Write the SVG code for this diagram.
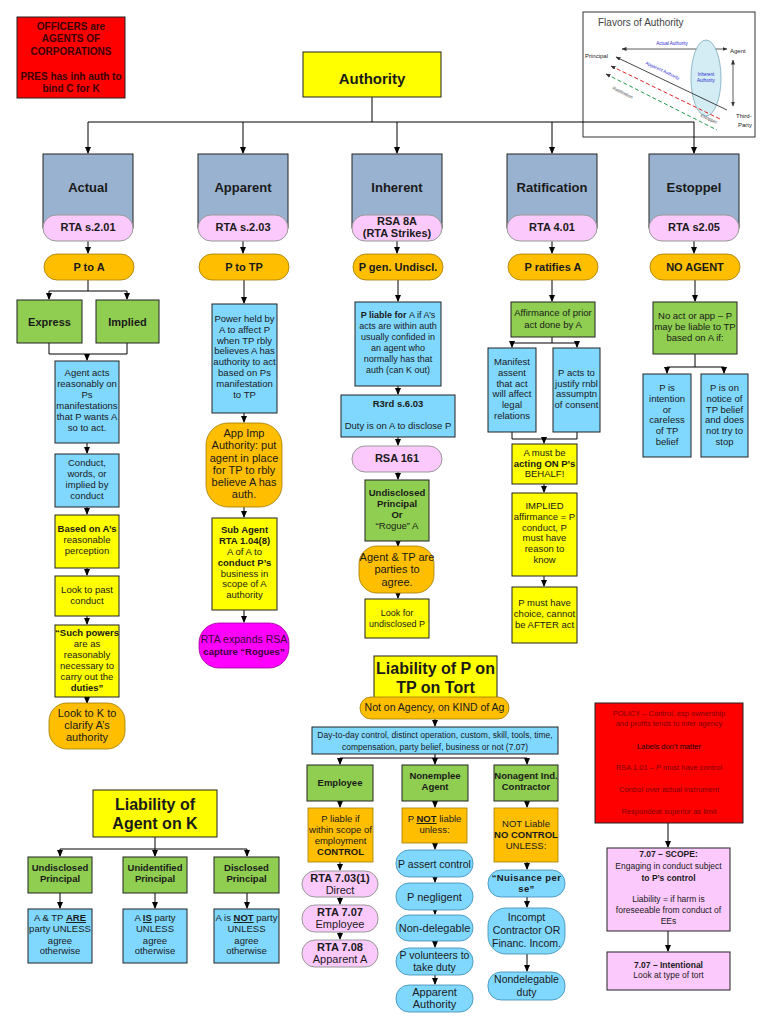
<svg xmlns="http://www.w3.org/2000/svg" width="768" height="1024" viewBox="0 0 768 1024">
<defs>
<marker id="ah" markerWidth="7" markerHeight="6" refX="6" refY="3" orient="auto" markerUnits="userSpaceOnUse"><path d="M0,0 L7,3 L0,6 z" fill="#000"/></marker>
<marker id="sa" markerWidth="5" markerHeight="4" refX="4.5" refY="2" orient="auto-start-reverse" markerUnits="userSpaceOnUse"><path d="M0,0 L5,2 L0,4 z" fill="#333"/></marker>
<style>
text{font-family:"Liberation Sans",Arial,sans-serif;text-anchor:middle;fill:#1a1a1a}
.s9{font-size:9px}.s95{font-size:9.5px}.s11{font-size:11px}.s85{font-size:8.5px}
.b{font-weight:bold}
.bx{stroke:#222;stroke-width:1}
.hdr{fill:#98b2cf}.pk{fill:#fcc9fc;stroke:#999;stroke-width:1}.or{fill:#ffbf00;stroke:#a07a00;stroke-width:0.8}
.gr{fill:#8fce50}.bl{fill:#80d8ff}.ye{fill:#ffff00}.rd{fill:#ff0000}.mg{fill:#ff00ff;stroke:#a000a0;stroke-width:0.8}
.bp{fill:#80d8ff;stroke:#3a8ab0;stroke-width:0.8}
.c{stroke:#000;stroke-width:1;fill:none}
.ca{stroke:#000;stroke-width:1;fill:none;marker-end:url(#ah)}
</style>
</defs>
<rect width="768" height="1024" fill="#fff"/>

<!-- inset -->
<g id="inset">
<rect x="583" y="12" width="172" height="125" fill="#fff" stroke="#333" stroke-width="1"/>
<text x="598" y="26" style="font-size:10px;text-anchor:start;fill:#444">Flavors of Authority</text>
<text x="585" y="58" style="font-size:6px;text-anchor:start;fill:#222">Principal</text>
<text x="730" y="53" style="font-size:6px;text-anchor:start;fill:#222">Agent</text>
<line x1="622" y1="49" x2="727" y2="49" stroke="#333" stroke-width="0.8" marker-start="url(#sa)" marker-end="url(#sa)"/>
<text x="672" y="45" style="font-size:4.5px;fill:#2a2ad0">Actual Authority</text>
<ellipse cx="706" cy="78" rx="15" ry="38" fill="#d4ecf4" stroke="#7ab" stroke-width="0.8"/>
<text x="706" y="76" style="font-size:4.5px;fill:#2a2ad0">Inherent</text>
<text x="706" y="82" style="font-size:4.5px;fill:#2a2ad0">Authority</text>
<line x1="733" y1="60" x2="733" y2="106" stroke="#333" stroke-width="0.8" marker-start="url(#sa)" marker-end="url(#sa)"/>
<text x="736" y="118" style="font-size:6px;text-anchor:start;fill:#222">Third-</text>
<text x="738" y="127" style="font-size:6px;text-anchor:start;fill:#222">Party</text>
<line x1="616" y1="57" x2="727" y2="110" stroke="#333" stroke-width="0.9" marker-start="url(#sa)"/>
<text x="0" y="0" transform="translate(662,72) rotate(25.5)" style="font-size:4.5px;fill:#2a2ad0">Apparent Authority</text>
<line x1="611" y1="66" x2="722" y2="120" stroke="#e02020" stroke-width="1" stroke-dasharray="4,2.5" marker-start="url(#sa)"/>
<line x1="606" y1="74" x2="717" y2="130" stroke="#20a050" stroke-width="1" stroke-dasharray="4,2.5" marker-start="url(#sa)"/>
<text x="0" y="0" transform="translate(622,94) rotate(26)" style="font-size:4.5px;fill:#444">Ratification</text>
<text x="0" y="0" transform="translate(708,120) rotate(26)" style="font-size:4.5px;fill:#444">Estoppel</text>
</g>

<!-- connectors -->
<g id="connectors">
<path class="c" d="M372,97 V122 M88,122 H694"/>
<path class="ca" d="M88,122 V153"/><path class="ca" d="M243,122 V153"/><path class="ca" d="M397,122 V153"/><path class="ca" d="M552,122 V153"/><path class="ca" d="M694,122 V153"/>
<path class="ca" d="M88,241 V253"/><path class="ca" d="M243,241 V253"/><path class="ca" d="M397,241 V253"/><path class="ca" d="M552,241 V253"/><path class="ca" d="M694,241 V253"/>
<!-- actual -->
<path class="c" d="M88,280 V291 M49,291 H127"/>
<path class="ca" d="M49,291 V299"/><path class="ca" d="M127,291 V299"/>
<path class="c" d="M49,343 V354 H127 V343"/>
<path class="ca" d="M87,354 V360"/>
<path class="ca" d="M87,443 V453"/><path class="ca" d="M87,507 V514"/><path class="ca" d="M87,568 V575"/><path class="ca" d="M87,616 V624"/><path class="ca" d="M87,697 V703"/>
<!-- apparent -->
<path class="ca" d="M244,280 V303"/><path class="ca" d="M244,413 V422"/><path class="ca" d="M244,507 V517"/><path class="ca" d="M244,610 V622"/>
<!-- inherent -->
<path class="ca" d="M398,280 V301"/><path class="ca" d="M398,386 V394"/><path class="ca" d="M398,437 V445"/><path class="ca" d="M398,472 V479"/><path class="ca" d="M398,541 V546"/><path class="ca" d="M398,593 V598"/>
<!-- ratification -->
<path class="ca" d="M552,280 V301"/>
<path class="c" d="M552,337 V343 M512,343 H577"/>
<path class="ca" d="M512,343 V347"/><path class="ca" d="M577,343 V347"/>
<path class="c" d="M512,432 V439 H577 V432"/>
<path class="ca" d="M544,439 V443"/><path class="ca" d="M544,484 V492"/><path class="ca" d="M544,576 V586"/>
<!-- estoppel -->
<path class="ca" d="M695,280 V301"/>
<path class="c" d="M695,354 V367 M667,367 H724"/>
<path class="ca" d="M667,367 V373"/><path class="ca" d="M724,367 V373"/>
<!-- tort -->
<path class="ca" d="M435,719 V726"/>
<path class="c" d="M435,754 V758 M340,758 H527"/>
<path class="ca" d="M340,758 V764"/><path class="ca" d="M435,758 V764"/><path class="ca" d="M527,758 V764"/>
<path class="ca" d="M340,801 V807"/><path class="ca" d="M435,801 V807"/><path class="ca" d="M527,801 V807"/>
<path class="ca" d="M340,862 V870"/><path class="ca" d="M340,897 V904"/><path class="ca" d="M340,932 V939"/>
<path class="ca" d="M435,843 V849"/><path class="ca" d="M435,877 V882"/><path class="ca" d="M435,910 V914"/><path class="ca" d="M435,941 V947"/><path class="ca" d="M435,975 V984"/>
<path class="ca" d="M527,862 V869"/><path class="ca" d="M527,897 V907"/><path class="ca" d="M527,954 V971"/>
<!-- policy -->
<path class="ca" d="M668,823 V847"/><path class="ca" d="M668,931 V951"/>
<!-- agent on K -->
<path class="c" d="M155,837 V849 M60,849 H247"/>
<path class="ca" d="M60,849 V856"/><path class="ca" d="M155,849 V856"/><path class="ca" d="M247,849 V856"/>
<path class="ca" d="M60,893 V908"/><path class="ca" d="M155,893 V908"/><path class="ca" d="M247,893 V908"/>
</g>

<g id="officers">
<rect x="17" y="17" width="108" height="81" class="bx rd"/>
<text class="b" style="font-size:10px;fill:#3a0000"><tspan x="71" y="30">OFFICERS are</tspan><tspan x="71" y="42">AGENTS OF</tspan><tspan x="71" y="55">CORPORATIONS</tspan><tspan x="71" y="80">PRES has inh auth to</tspan><tspan x="71" y="92">bind C for K</tspan></text>
</g>

<g id="authority">
<rect x="303" y="52" width="138" height="45" class="bx ye"/>
<text x="372" y="84" class="b" style="font-size:15px">Authority</text>
</g>

<!-- headers -->
<g id="actual"><rect x="43" y="154" width="90" height="74" class="bx hdr"/><text x="88" y="192" class="b" style="font-size:13px">Actual</text>
<rect x="43" y="215" width="90" height="26" rx="13" class="pk"/><text x="88" y="231" class="b s11">RTA s.2.01</text></g>
<g id="apparent"><rect x="198" y="154" width="90" height="74" class="bx hdr"/><text x="243" y="192" class="b" style="font-size:13px">Apparent</text>
<rect x="198" y="215" width="90" height="26" rx="13" class="pk"/><text x="243" y="231" class="b s11">RTA s.2.03</text></g>
<g id="inherent"><rect x="352" y="154" width="90" height="74" class="bx hdr"/><text x="397" y="192" class="b" style="font-size:13px">Inherent</text>
<rect x="352" y="215" width="90" height="26" rx="13" class="pk"/><text class="b s11"><tspan x="397" y="225">RSA 8A</tspan><tspan x="397" y="237">(RTA Strikes)</tspan></text></g>
<g id="ratification"><rect x="507" y="154" width="90" height="74" class="bx hdr"/><text x="552" y="192" class="b" style="font-size:13px">Ratification</text>
<rect x="507" y="215" width="90" height="26" rx="13" class="pk"/><text x="552" y="231" class="b s11">RTA 4.01</text></g>
<g id="estoppel"><rect x="649" y="154" width="90" height="74" class="bx hdr"/><text x="694" y="192" class="b" style="font-size:13px">Estoppel</text>
<rect x="649" y="215" width="90" height="26" rx="13" class="pk"/><text x="694" y="231" class="b s11">RTA s2.05</text></g>

<g id="ptoa"><rect x="44" y="254" width="90" height="26" rx="13" class="or"/><text x="89" y="271" class="b s11">P to A</text></g>
<g id="ptotp"><rect x="199" y="254" width="90" height="26" rx="13" class="or"/><text x="244" y="271" class="b s11">P to TP</text></g>
<g id="pgen"><rect x="353" y="254" width="90" height="26" rx="13" class="or"/><text x="398" y="271" class="b s11">P gen. Undiscl.</text></g>
<g id="pratifies"><rect x="508" y="254" width="90" height="26" rx="13" class="or"/><text x="553" y="271" class="b s11">P ratifies A</text></g>
<g id="noagent"><rect x="650" y="254" width="90" height="26" rx="13" class="or"/><text x="695" y="271" class="b s11">NO AGENT</text></g>

<!-- actual column -->
<g id="express"><rect x="17" y="300" width="65" height="43" class="bx gr"/><text x="49.5" y="326" class="b s11">Express</text></g>
<g id="implied"><rect x="96" y="300" width="63" height="43" class="bx gr"/><text x="127.5" y="326" class="b s11">Implied</text></g>
<g id="a1"><rect x="55" y="361" width="64" height="82" class="bx bl"/><text class="s95"><tspan x="87" y="376">Agent acts</tspan><tspan x="87" y="387">reasonably on</tspan><tspan x="87" y="398">Ps</tspan><tspan x="87" y="409">manifestations</tspan><tspan x="87" y="420">that P wants A</tspan><tspan x="87" y="431">so to act.</tspan></text></g>
<g id="a2"><rect x="55" y="454" width="64" height="53" class="bx bl"/><text class="s95"><tspan x="87" y="466">Conduct,</tspan><tspan x="87" y="477">words, or</tspan><tspan x="87" y="488">implied by</tspan><tspan x="87" y="499">conduct</tspan></text></g>
<g id="a3"><rect x="55" y="515" width="64" height="53" class="bx ye"/><text class="s95"><tspan x="87" y="532" class="b">Based on A’s</tspan><tspan x="87" y="543">reasonable</tspan><tspan x="87" y="554">perception</tspan></text></g>
<g id="a4"><rect x="55" y="576" width="64" height="40" class="bx ye"/><text class="s95"><tspan x="87" y="593">Look to past</tspan><tspan x="87" y="604">conduct</tspan></text></g>
<g id="a5"><rect x="55" y="625" width="64" height="72" class="bx ye"/><text class="s95"><tspan x="87" y="636" class="b">“Such powers</tspan><tspan x="87" y="647">are as</tspan><tspan x="87" y="658">reasonably</tspan><tspan x="87" y="669">necessary to</tspan><tspan x="87" y="680">carry out the</tspan><tspan x="87" y="691" class="b">duties”</tspan></text></g>
<g id="a6"><rect x="49" y="703" width="76" height="46" rx="18" class="or"/><text class="s11"><tspan x="87" y="717">Look to K to</tspan><tspan x="87" y="729">clarify A’s</tspan><tspan x="87" y="741">authority</tspan></text></g>

<!-- apparent column -->
<g id="p1"><rect x="212" y="304" width="65" height="109" class="bx bl"/><text class="s95"><tspan x="244.5" y="322">Power held by</tspan><tspan x="244.5" y="332.8">A to affect P</tspan><tspan x="244.5" y="343.6">when TP rbly</tspan><tspan x="244.5" y="354.4">believes A has</tspan><tspan x="244.5" y="365.2">authority to act</tspan><tspan x="244.5" y="376">based on Ps</tspan><tspan x="244.5" y="386.8">manifestation</tspan><tspan x="244.5" y="397.6">to TP</tspan></text></g>
<g id="p2"><rect x="206" y="423" width="76" height="84" rx="22" class="or"/><text class="s11"><tspan x="244" y="437">App Imp</tspan><tspan x="244" y="449">Authority: put</tspan><tspan x="244" y="461.5">agent in place</tspan><tspan x="244" y="474">for TP to rbly</tspan><tspan x="244" y="486">believe A has</tspan><tspan x="244" y="498">auth.</tspan></text></g>
<g id="p3"><rect x="212" y="518" width="65" height="92" class="bx ye"/><text class="s95"><tspan x="244.5" y="533" class="b">Sub Agent</tspan><tspan x="244.5" y="544" class="b">RTA 1.04(8)</tspan><tspan x="244.5" y="555">A of A to</tspan><tspan x="244.5" y="566"><tspan class="b">conduct P’s</tspan></tspan><tspan x="244.5" y="577">business in</tspan><tspan x="244.5" y="587">scope of A</tspan><tspan x="244.5" y="598">authority</tspan></text></g>
<g id="p4"><rect x="199" y="623" width="90" height="45" rx="20" class="mg"/><text style="fill:#3a003a"><tspan x="244" y="643" style="font-size:10.5px">RTA expands RSA</tspan><tspan x="244" y="655" class="b s95">capture “Rogues”</tspan></text></g>

<!-- inherent column -->
<g id="i1"><rect x="355" y="302" width="86" height="84" class="bx bl"/><text class="s9"><tspan x="398" y="318"><tspan class="b">P liable for </tspan>A if A’s</tspan><tspan x="398" y="329">acts are within auth</tspan><tspan x="398" y="340">usually confided in</tspan><tspan x="398" y="351">an agent who</tspan><tspan x="398" y="362">normally has that</tspan><tspan x="398" y="373">auth (can K out)</tspan></text></g>
<g id="i2"><rect x="341" y="395" width="114" height="42" class="bx bl"/><text class="s95"><tspan x="398" y="407" class="b">R3rd s.6.03</tspan><tspan x="398" y="429">Duty is on A to disclose P</tspan></text></g>
<g id="i3"><rect x="352" y="446" width="90" height="26" rx="13" class="pk"/><text x="397" y="462" class="b s11">RSA 161</text></g>
<g id="i4"><rect x="365" y="480" width="64" height="61" class="bx gr"/><text class="s95"><tspan x="397" y="496" class="b">Undisclosed</tspan><tspan x="397" y="507" class="b">Principal</tspan><tspan x="397" y="518" class="b">Or</tspan><tspan x="397" y="529">“Rogue” A</tspan></text></g>
<g id="i5"><rect x="359" y="546" width="75" height="47" rx="18" class="or"/><text class="s11"><tspan x="397" y="561">Agent &amp; TP are</tspan><tspan x="397" y="573">parties to</tspan><tspan x="397" y="586">agree.</tspan></text></g>
<g id="i6"><rect x="365" y="599" width="64" height="39" class="bx ye"/><text class="s9"><tspan x="397" y="616">Look for</tspan><tspan x="397" y="627">undisclosed P</tspan></text></g>

<!-- ratification column -->
<g id="r1"><rect x="511" y="302" width="84" height="35" class="bx gr"/><text class="s95"><tspan x="553" y="316">Affirmance of prior</tspan><tspan x="553" y="328">act done by A</tspan></text></g>
<g id="r2"><rect x="488" y="348" width="48" height="84" class="bx bl"/><text class="s95"><tspan x="512" y="365">Manifest</tspan><tspan x="512" y="376">assent</tspan><tspan x="512" y="386.5">that act</tspan><tspan x="512" y="397">will affect</tspan><tspan x="512" y="408">legal</tspan><tspan x="512" y="419">relations</tspan></text></g>
<g id="r3"><rect x="553" y="348" width="47" height="84" class="bx bl"/><text class="s95"><tspan x="576.5" y="376">P acts to</tspan><tspan x="576.5" y="386.5">justify rnbl</tspan><tspan x="576.5" y="397">assumptn</tspan><tspan x="576.5" y="408">of consent</tspan></text></g>
<g id="r4"><rect x="512" y="444" width="65" height="40" class="bx ye"/><text class="s95"><tspan x="544.5" y="456">A must be</tspan><tspan x="544.5" y="467" class="b">acting ON P’s</tspan><tspan x="544.5" y="477">BEHALF!</tspan></text></g>
<g id="r5"><rect x="512" y="493" width="65" height="83" class="bx ye"/><text class="s95"><tspan x="544.5" y="509">IMPLIED</tspan><tspan x="544.5" y="520">affirmance = P</tspan><tspan x="544.5" y="531">conduct, P</tspan><tspan x="544.5" y="541">must have</tspan><tspan x="544.5" y="552">reason to</tspan><tspan x="544.5" y="563">know</tspan></text></g>
<g id="r6"><rect x="512" y="587" width="65" height="56" class="bx ye"/><text class="s95"><tspan x="544.5" y="606">P must have</tspan><tspan x="544.5" y="617">choice, cannot</tspan><tspan x="544.5" y="628">be AFTER act</tspan></text></g>

<!-- estoppel column -->
<g id="e1"><rect x="653" y="302" width="84" height="52" class="bx gr"/><text class="s95"><tspan x="695" y="319">No act or app – P</tspan><tspan x="695" y="330">may be liable to TP</tspan><tspan x="695" y="341">based on A if:</tspan></text></g>
<g id="e2"><rect x="643" y="374" width="48" height="83" class="bx bl"/><text class="s95"><tspan x="667" y="391">P is</tspan><tspan x="667" y="402">intention</tspan><tspan x="667" y="412.5">or</tspan><tspan x="667" y="423">careless</tspan><tspan x="667" y="434">of TP</tspan><tspan x="667" y="445">belief</tspan></text></g>
<g id="e3"><rect x="701" y="374" width="47" height="83" class="bx bl"/><text class="s95"><tspan x="724.5" y="391">P is on</tspan><tspan x="724.5" y="402">notice of</tspan><tspan x="724.5" y="412.5">TP belief</tspan><tspan x="724.5" y="423">and does</tspan><tspan x="724.5" y="434">not try to</tspan><tspan x="724.5" y="445">stop</tspan></text></g>

<!-- tort -->
<g id="tort"><rect x="374" y="656" width="123" height="42" class="bx ye"/><text class="b" style="font-size:16px"><tspan x="435.5" y="674">Liability of P on</tspan><tspan x="435.5" y="693">TP on Tort</tspan></text></g>
<g id="t0"><rect x="360" y="697" width="149" height="22" rx="11" class="or"/><text x="434.5" y="711" style="font-size:10.5px">Not on Agency, on KIND of Ag</text></g>
<g id="t1"><rect x="312" y="727" width="246" height="27" class="bx bl"/><text class="s85"><tspan x="435" y="738">Day-to-day control, distinct operation, custom, skill, tools, time,</tspan><tspan x="435" y="750">compensation, party belief, business or not (7.07)</tspan></text></g>
<g id="employee"><rect x="307" y="765" width="66" height="36" class="bx gr"/><text x="340" y="786" class="b s95">Employee</text></g>
<g id="nonemplee"><rect x="402" y="765" width="66" height="36" class="bx gr"/><text class="b s95"><tspan x="435" y="779">Nonemplee</tspan><tspan x="435" y="790">Agent</tspan></text></g>
<g id="nonagent"><rect x="494" y="765" width="64" height="36" class="bx gr"/><text class="b s95"><tspan x="526" y="779">Nonagent Ind.</tspan><tspan x="526" y="790">Contractor</tspan></text></g>
<g id="o1"><rect x="308" y="808" width="65" height="54" class="bx or"/><text class="s95"><tspan x="340.5" y="822">P liable if</tspan><tspan x="340.5" y="833">within scope of</tspan><tspan x="340.5" y="844">employment</tspan><tspan x="340.5" y="855" class="b">CONTROL</tspan></text></g>
<g id="o2"><rect x="402" y="808" width="65" height="35" class="bx or"/><text class="s95"><tspan x="434.5" y="822">P <tspan class="b" text-decoration="underline">NOT</tspan> liable</tspan><tspan x="434.5" y="833">unless:</tspan></text></g>
<g id="o3"><rect x="494" y="808" width="64" height="54" class="bx or"/><text class="s95"><tspan x="526" y="827">NOT Liable</tspan><tspan x="526" y="837.5" class="b">NO CONTROL</tspan><tspan x="526" y="849">UNLESS:</tspan></text></g>
<g id="rta703"><rect x="302" y="871" width="76" height="26" rx="13" class="pk"/><text class="s11"><tspan x="340" y="882" class="b">RTA 7.03(1)</tspan><tspan x="340" y="894">Direct</tspan></text></g>
<g id="rta707"><rect x="302" y="905" width="76" height="27" rx="13" class="pk"/><text class="s11"><tspan x="340" y="916" class="b">RTA 7.07</tspan><tspan x="340" y="928">Employee</tspan></text></g>
<g id="rta708"><rect x="302" y="940" width="76" height="27" rx="13" class="pk"/><text class="s11"><tspan x="340" y="951" class="b">RTA 7.08</tspan><tspan x="340" y="963">Apparent A</tspan></text></g>
<g id="n1"><rect x="396" y="850" width="77" height="27" rx="13" class="bp"/><text x="434.5" y="867.5" style="font-size:10.5px">P assert control</text></g>
<g id="n2"><rect x="396" y="883" width="77" height="27" rx="13" class="bp"/><text x="434.5" y="900.5" class="s11">P negligent</text></g>
<g id="n3"><rect x="396" y="915" width="77" height="26" rx="13" class="bp"/><text x="434.5" y="932" class="s11">Non-delegable</text></g>
<g id="n4"><rect x="396" y="948" width="77" height="27" rx="13" class="bp"/><text style="font-size:10.5px"><tspan x="434.5" y="959">P volunteers to</tspan><tspan x="434.5" y="971">take duty</tspan></text></g>
<g id="n5"><rect x="396" y="985" width="77" height="27" rx="13" class="bp"/><text class="s11"><tspan x="434.5" y="996">Apparent</tspan><tspan x="434.5" y="1008">Authority</tspan></text></g>
<g id="c1"><rect x="488" y="870" width="77" height="27" rx="13" class="bp"/><text class="b s95" style="letter-spacing:0.4px"><tspan x="526.5" y="881">“Nuisance per</tspan><tspan x="526.5" y="892">se”</tspan></text></g>
<g id="c2"><rect x="488" y="908" width="77" height="46" rx="18" class="bp"/><text style="font-size:10.5px"><tspan x="526.5" y="921">Incompt</tspan><tspan x="526.5" y="934">Contractor OR</tspan><tspan x="526.5" y="947">Financ. Incom.</tspan></text></g>
<g id="c3"><rect x="488" y="972" width="77" height="28" rx="13" class="bp"/><text style="font-size:10.5px"><tspan x="526.5" y="983">Nondelegable</tspan><tspan x="526.5" y="996">duty</tspan></text></g>

<!-- policy -->
<g id="policy"><rect x="595" y="703" width="148" height="120" class="bx rd"/><text style="font-size:7.5px;fill:#7a0000"><tspan x="669" y="716">POLICY – Control, esp ownership</tspan><tspan x="669" y="726">and profits tends to infer agency</tspan><tspan x="669" y="749" style="fill:#1a0000">Labels don’t matter</tspan><tspan x="669" y="770">RSA 1.01 – P must have control</tspan><tspan x="669" y="792">Control over actual instrument</tspan><tspan x="669" y="814">Respondeat superior as limit</tspan></text></g>
<g id="scope"><rect x="607" y="848" width="123" height="83" class="bx pk" style="stroke:#222"/><text class="s85"><tspan x="668.5" y="857" class="b">7.07 – SCOPE:</tspan><tspan x="668.5" y="869">Engaging in conduct subject</tspan><tspan x="668.5" y="881" class="b">to P’s control</tspan><tspan x="668.5" y="902">Liability = if harm is</tspan><tspan x="668.5" y="913">foreseeable from conduct of</tspan><tspan x="668.5" y="924">EEs</tspan></text></g>
<g id="intentional"><rect x="607" y="952" width="123" height="38" class="bx pk" style="stroke:#222"/><text class="s85"><tspan x="668.5" y="968" class="b">7.07 – Intentional</tspan><tspan x="668.5" y="978">Look at type of tort</tspan></text></g>

<!-- agent on K -->
<g id="agentk"><rect x="93" y="790" width="124" height="47" class="bx ye"/><text class="b" style="font-size:16px"><tspan x="155" y="810">Liability of</tspan><tspan x="155" y="829">Agent on K</tspan></text></g>
<g id="k1"><rect x="28" y="857" width="64" height="36" class="bx gr"/><text class="b s95"><tspan x="60" y="871">Undisclosed</tspan><tspan x="60" y="882">Principal</tspan></text></g>
<g id="k2"><rect x="123" y="857" width="64" height="36" class="bx gr"/><text class="b s95"><tspan x="155" y="871">Unidentified</tspan><tspan x="155" y="882">Principal</tspan></text></g>
<g id="k3"><rect x="214" y="857" width="65" height="36" class="bx gr"/><text class="b s95"><tspan x="246.5" y="871">Disclosed</tspan><tspan x="246.5" y="882">Principal</tspan></text></g>
<g id="k4"><rect x="28" y="909" width="64" height="54" class="bx bl"/><text style="font-size:9.5px"><tspan x="60" y="921">A &amp; TP <tspan class="b" text-decoration="underline">ARE</tspan></tspan><tspan x="60" y="932">party UNLESS</tspan><tspan x="60" y="944">agree</tspan><tspan x="60" y="954">otherwise</tspan></text></g>
<g id="k5"><rect x="123" y="909" width="64" height="54" class="bx bl"/><text style="font-size:9.5px"><tspan x="155" y="921">A <tspan class="b" text-decoration="underline">IS</tspan> party</tspan><tspan x="155" y="932">UNLESS</tspan><tspan x="155" y="944">agree</tspan><tspan x="155" y="954">otherwise</tspan></text></g>
<g id="k6"><rect x="214" y="909" width="65" height="54" class="bx bl"/><text style="font-size:9.5px"><tspan x="246.5" y="921">A is <tspan class="b" text-decoration="underline">NOT</tspan> party</tspan><tspan x="246.5" y="932">UNLESS</tspan><tspan x="246.5" y="944">agree</tspan><tspan x="246.5" y="954">otherwise</tspan></text></g>
</svg>
